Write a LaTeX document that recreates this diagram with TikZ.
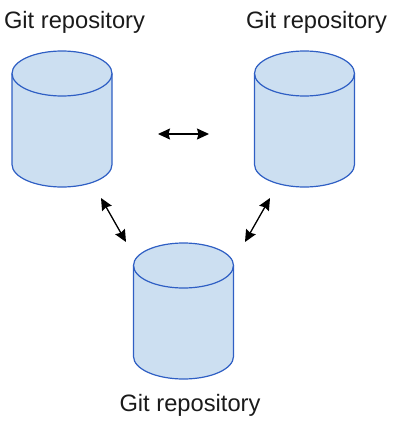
\documentclass[tikz,border=0pt]{standalone}
\usepackage{fontspec}
\setmainfont{Liberation Sans}
\usetikzlibrary{arrows.meta}
\definecolor{gitblue}{RGB}{47,95,196}
\definecolor{gitfill}{RGB}{204,223,241}
\definecolor{gittext}{RGB}{26,26,26}
\newcommand{\gitrepo}[2]{%
  \node[repobox] (#1) at (#2) {};
  \draw[repoline] ([shift={(0,22.5)}]#1.north west) -- ([shift={(0,-22.5)}]#1.south west)
    arc[start angle=180,end angle=360,x radius=50pt,y radius=22.5pt]
    -- ([shift={(0,22.5)}]#1.north east)
    arc[start angle=0,end angle=180,x radius=50pt,y radius=22.5pt] -- cycle;
  \draw[repoline,fill=none] ([shift={(0,22.5)}]#1.north west)
    arc[start angle=180,end angle=360,x radius=50pt,y radius=22.5pt];
}
\begin{document}
\begin{tikzpicture}[x=1pt,y=-1pt,
  repobox/.style={minimum width=100pt,minimum height=136pt,inner sep=0pt,outer sep=0pt},
  repoline/.style={draw=gitblue,fill=gitfill,line width=1.2pt},
  lbl/.style={font=\fontsize{23.7}{28}\selectfont,text=gittext,inner sep=0pt,anchor=base},
  conn/.style={line width=1.3pt,{Stealth[length=12pt,width=11pt,inset=1.5pt]}-{Stealth[length=12pt,width=11pt,inset=1.5pt]}}]
\useasboundingbox (0,0) rectangle (400,423);
\gitrepo{a}{62,119} \node[lbl] (la) at (74.5,28) {Git repository};
\gitrepo{b}{304.5,119} \node[lbl] (lb) at (316.5,28) {Git repository};
\gitrepo{c}{183.5,311} \node[lbl] (lc) at (190,411) {Git repository};
\draw[conn] ([shift={(96,15)}]a.center) -- ([shift={(-95.5,15)}]b.center);
\draw[conn] ([shift={(39,79)}]a.center) -- ([shift={(-57.5,-69)}]c.center);
\draw[conn] ([shift={(-34.5,79)}]b.center) -- ([shift={(61.5,-69)}]c.center);
\end{tikzpicture}
\end{document}
